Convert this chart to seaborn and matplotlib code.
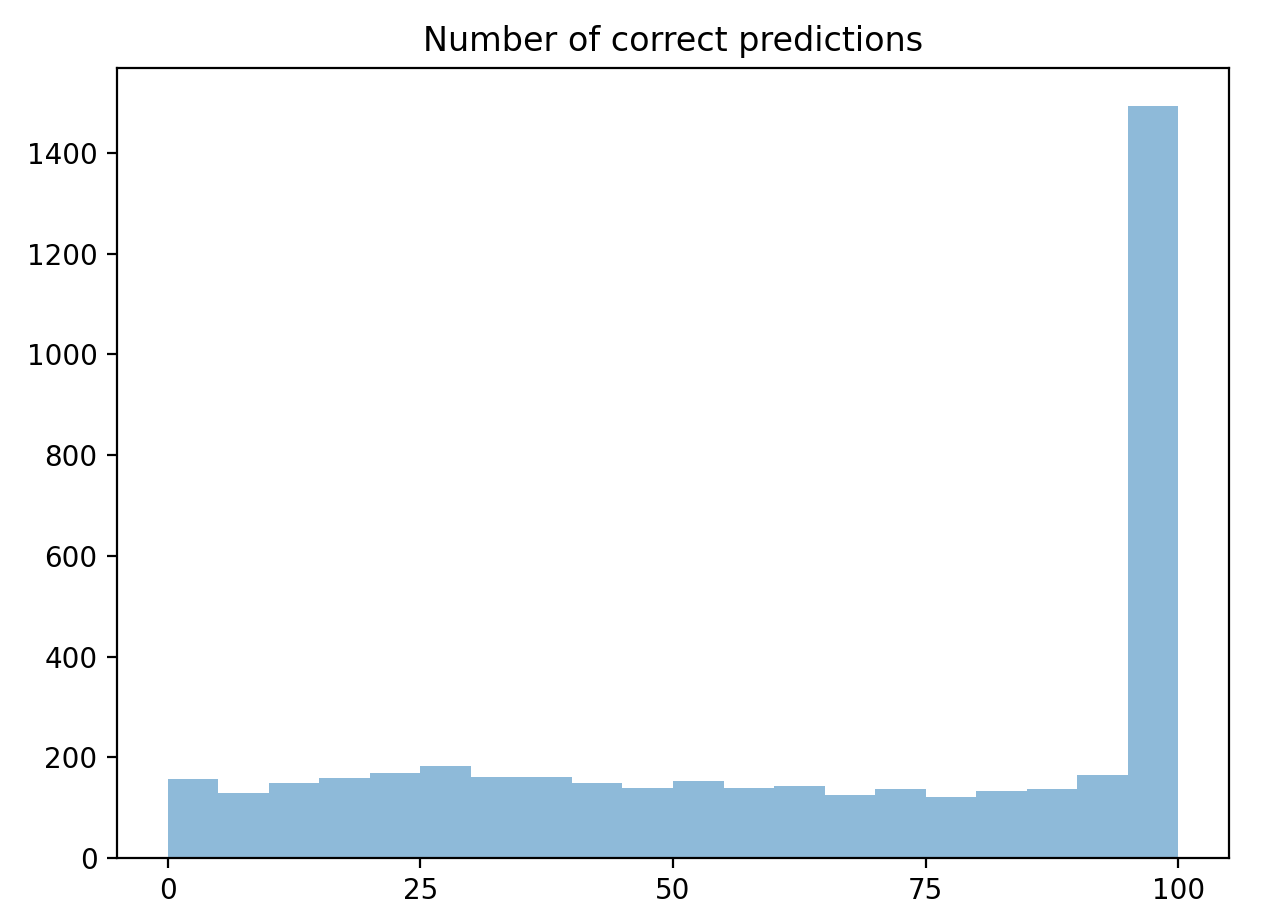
import numpy as np
import pandas as pd
import matplotlib
matplotlib.use("Agg")
import matplotlib.pyplot as plt
import seaborn as sns

bin_edges = list(range(0, 105, 5))
counts = [156, 129, 148, 159, 168, 183, 160, 160, 148, 140,
          152, 140, 144, 125, 137, 121, 133, 137, 165, 1494]

bin_centers = [e + 2.5 for e in bin_edges[:-1]]
df = pd.DataFrame({"accuracy": bin_centers, "count": counts})

fig = plt.figure(figsize=(6.305, 4.62), dpi=200)
ax = fig.add_axes([0.0928, 0.0714, 0.8818, 0.8550])

sns.histplot(data=df, x="accuracy", weights="count", bins=bin_edges,
             color="#1f77b4", alpha=0.5, linewidth=0, ax=ax)

ax.set_title("Number of correct predictions")
ax.set_xlabel("")
ax.set_ylabel("")
ax.set_xticks([0, 25, 50, 75, 100])
ax.set_xlim(-5, 105)

fig.savefig("out.png", dpi=200)
